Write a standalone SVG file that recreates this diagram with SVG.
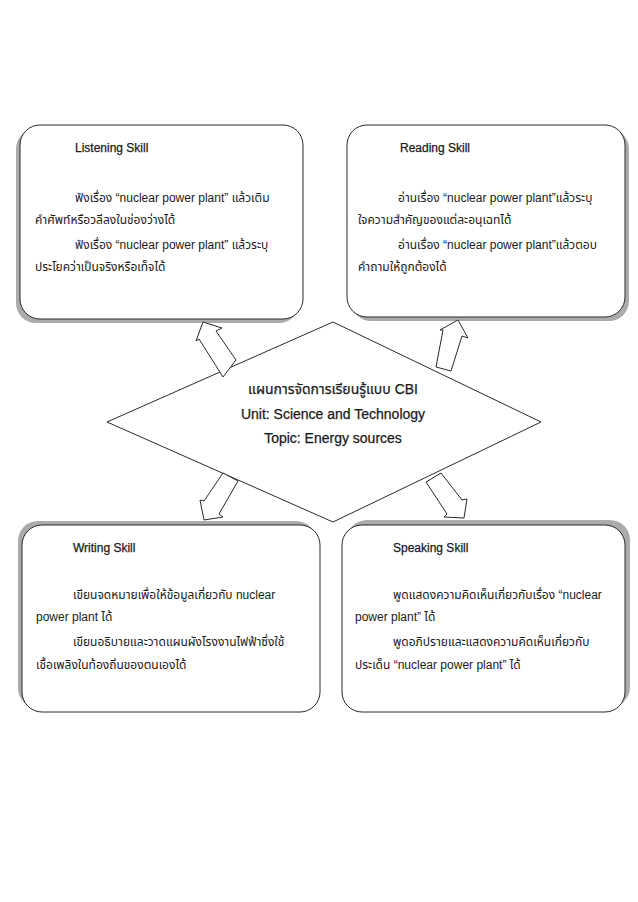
<svg xmlns="http://www.w3.org/2000/svg" width="638" height="902" viewBox="0 0 638 902">
<style>
  .box { fill: #ffffff; stroke: #2a2a2a; stroke-width: 1; }
  .shadow { fill: #ababab; stroke: none; }
  .shape { fill: #ffffff; stroke: #2a2a2a; stroke-width: 1; stroke-linejoin: miter; }
  text { font-family: "Liberation Sans", "Noto Sans", "Noto Sans Thai", sans-serif; fill: #1a1a1a; }
  .hd { font-size: 12px; stroke: #1a1a1a; stroke-width: 0.25; }
  .tx { font-size: 12px; }
  .ct { font-size: 14px; text-anchor: middle; stroke: #1a1a1a; stroke-width: 0.25; }
</style>
<rect width="638" height="902" fill="#ffffff"/>

<g id="node-listening">
  <rect class="shadow" x="16" y="129" width="283" height="194" rx="20"/>
  <rect class="box" x="20" y="125" width="283" height="194" rx="20"/>
  <text class="hd" x="75" y="152">Listening Skill</text>
  <text class="tx" x="75" y="202">ฟังเรื่อง “nuclear power plant” แล้วเติม</text>
  <text class="tx" x="35" y="224">คำศัพท์หรือวลีลงในช่องว่างได้</text>
  <text class="tx" x="75" y="249">ฟังเรื่อง “nuclear power plant” แล้วระบุ</text>
  <text class="tx" x="35" y="271">ประโยคว่าเป็นจริงหรือเท็จได้</text>
</g>

<g id="node-reading">
  <rect class="shadow" x="351" y="129" width="278" height="192" rx="20"/>
  <rect class="box" x="347" y="125" width="278" height="192" rx="20"/>
  <text class="hd" x="400" y="152">Reading Skill</text>
  <text class="tx" x="398" y="202">อ่านเรื่อง “nuclear power plant”แล้วระบุ</text>
  <text class="tx" x="358" y="224">ใจความสำคัญของแต่ละอนุเฉทได้</text>
  <text class="tx" x="398" y="249">อ่านเรื่อง “nuclear power plant”แล้วตอบ</text>
  <text class="tx" x="358" y="271">คำถามให้ถูกต้องได้</text>
</g>

<g id="node-writing">
  <rect class="shadow" x="18" y="521" width="298" height="187" rx="20"/>
  <rect class="box" x="22" y="525" width="298" height="187" rx="20"/>
  <text class="hd" x="73" y="552">Writing Skill</text>
  <text class="tx" x="73" y="599">เขียนจดหมายเพื่อให้ข้อมูลเกี่ยวกับ nuclear</text>
  <text class="tx" x="36" y="621">power plant ได้</text>
  <text class="tx" x="73" y="646">เขียนอธิบายและวาดแผนผังโรงงานไฟฟ้าซึ่งใช้</text>
  <text class="tx" x="36" y="669">เชื้อเพลิงในท้องถิ่นของตนเองได้</text>
</g>

<g id="node-speaking">
  <rect class="shadow" x="347" y="520" width="283" height="187" rx="20"/>
  <rect class="box" x="342" y="525" width="283" height="187" rx="20"/>
  <text class="hd" x="393" y="552">Speaking Skill</text>
  <text class="tx" x="393" y="599">พูดแสดงความคิดเห็นเกี่ยวกับเรื่อง “nuclear</text>
  <text class="tx" x="355" y="621">power plant” ได้</text>
  <text class="tx" x="393" y="646">พูดอภิปรายและแสดงความคิดเห็นเกี่ยวกับ</text>
  <text class="tx" x="355" y="669">ประเด็น “nuclear power plant” ได้</text>
</g>

<g id="node-center">
  <polygon class="shape" points="333,322 541,422 333,522 107,422"/>
  <text class="ct" x="333" y="394">แผนการจัดการเรียนรู้แบบ CBI</text>
  <text class="ct" x="333" y="419">Unit: Science and Technology</text>
  <text class="ct" x="333" y="443">Topic: Energy sources</text>
</g>

<g id="connectors">
  <polygon class="shape" points="203,322 222,328 216,331 236,360 223,377 199,339 196,341"/>
  <polygon class="shape" points="458,320 468,338 462,336 451,371 436,367 443,330 440,330"/>
  <polygon class="shape" points="223,473 238,481 219,514 223,517 204,520 200,500 204,501"/>
  <polygon class="shape" points="441,473 462,500 467,499 464,518 444,517 447,514 426,482"/>
</g>
</svg>
